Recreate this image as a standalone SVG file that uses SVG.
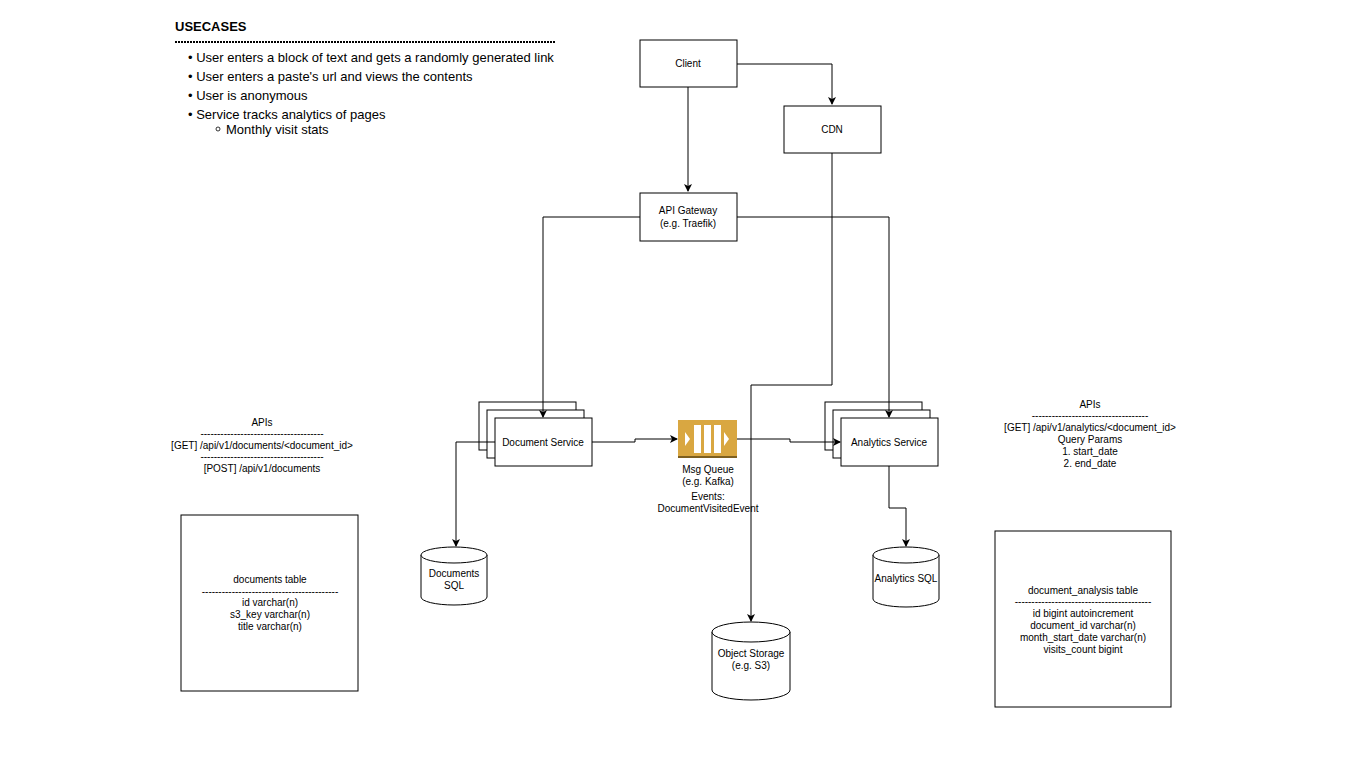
<svg xmlns="http://www.w3.org/2000/svg" width="1358" height="783" viewBox="0 0 1358 783">
<style>
text{font-family:"Liberation Sans",Arial,sans-serif;font-size:10px;fill:#000}
.b{fill:#fff;stroke:#000;stroke-width:1}
.c{fill:none;stroke:#000;stroke-width:1}
.u{font-size:13px}
</style>
<defs><marker id="a" markerWidth="8" markerHeight="8" refX="7" refY="4" orient="auto" markerUnits="userSpaceOnUse"><path d="M0,0L8,4L0,8L2,4z" fill="#000"/></marker></defs>
<rect width="1358" height="783" fill="#fff"/>
<g id="usecases">
<text x="175" y="31" style="font-size:13px;font-weight:bold">USECASES</text>
<line x1="175" y1="42" x2="556" y2="42" stroke="#000" stroke-width="2" stroke-dasharray="2,1"/>
<text class="u" x="188" y="62">•  User enters a block of text and gets a randomly generated link</text>
<text class="u" x="188" y="81">•  User enters a paste's url and views the contents</text>
<text class="u" x="188" y="100">•  User is anonymous</text>
<text class="u" x="188" y="119">•  Service tracks analytics of pages</text>
<circle cx="218" cy="129" r="2" fill="none" stroke="#000" stroke-width="0.8"/>
<text class="u" x="226" y="134">Monthly visit stats</text>
</g>
<g id="client"><rect class="b" x="640" y="40" width="97" height="47"/><text x="688" y="67" text-anchor="middle">Client</text></g>
<g id="cdn"><rect class="b" x="784" y="106" width="97" height="47"/><text x="832" y="133" text-anchor="middle">CDN</text></g>
<g id="gateway"><rect class="b" x="640" y="193" width="97" height="48"/><text x="688" y="214" text-anchor="middle">API Gateway</text><text x="688" y="227" text-anchor="middle">(e.g. Traefik)</text></g>
<g id="docservice">
<rect class="b" x="479" y="402" width="97" height="48"/><rect class="b" x="487" y="410" width="97" height="48"/><rect class="b" x="495" y="418" width="97" height="48"/>
<text x="543" y="446" text-anchor="middle">Document Service</text></g>
<g id="analyticsservice">
<rect class="b" x="825" y="402" width="97" height="48"/><rect class="b" x="833" y="410" width="97" height="48"/><rect class="b" x="841" y="418" width="97" height="48"/>
<text x="889" y="446" text-anchor="middle">Analytics Service</text></g>
<g id="queue">
<rect x="678" y="420" width="59" height="38" fill="#d9a741"/><rect x="678" y="456" width="59" height="2" fill="#7d5f20"/>
<path d="M685,432L690,439L685,446z" fill="#fff"/><rect x="694" y="425" width="7" height="28" fill="#fff"/><rect x="704" y="425" width="7" height="28" fill="#fff"/><rect x="714" y="425" width="7" height="28" fill="#fff"/><path d="M724,432L729,439L724,446z" fill="#fff"/>
<text x="708" y="473" text-anchor="middle">Msg Queue</text><text x="708" y="485" text-anchor="middle">(e.g. Kafka)</text>
<text x="708" y="500" text-anchor="middle">Events:</text><text x="708" y="512" text-anchor="middle">DocumentVisitedEvent</text></g>
<g id="docsql"><path class="b" d="M421,555V597A33,8 0 0 0 487,597V555"/><ellipse class="b" cx="454" cy="555" rx="33" ry="8"/><text x="454" y="577" text-anchor="middle">Documents</text><text x="454" y="589" text-anchor="middle">SQL</text></g>
<g id="analyticssql"><path class="b" d="M873,555V599A33,8 0 0 0 939,599V555"/><ellipse class="b" cx="906" cy="555" rx="33" ry="8"/><text x="906" y="582" text-anchor="middle">Analytics SQL</text></g>
<g id="objstorage"><path class="b" d="M712,632V690A39,10 0 0 0 790,690V632"/><ellipse class="b" cx="751" cy="632" rx="39" ry="10"/><text x="751" y="657" text-anchor="middle">Object Storage</text><text x="751" y="669" text-anchor="middle">(e.g. S3)</text></g>
<g id="docapis" text-anchor="middle">
<text x="262" y="426">APIs</text><text x="262" y="437">-------------------------------------</text>
<text x="262" y="449">[GET] /api/v1/documents/&lt;document_id&gt;</text><text x="262" y="460">-------------------------------------</text>
<text x="262" y="472">[POST] /api/v1/documents</text></g>
<g id="analyticsapis" text-anchor="middle">
<text x="1090" y="408">APIs</text><text x="1090" y="419">-----------------------------------</text>
<text x="1090" y="431">[GET] /api/v1/analytics/&lt;document_id&gt;</text><text x="1090" y="443">Query Params</text>
<text x="1090" y="455">1. start_date</text><text x="1090" y="467">2. end_date</text></g>
<g id="doctable"><rect class="b" x="181" y="515" width="177" height="176"/>
<g text-anchor="middle"><text x="270" y="583">documents table</text><text x="270" y="595">-----------------------------------------</text>
<text x="270" y="606">id varchar(n)</text><text x="270" y="618">s3_key varchar(n)</text><text x="270" y="630">title varchar(n)</text></g></g>
<g id="analysistable"><rect class="b" x="995" y="531" width="176" height="176"/>
<g text-anchor="middle"><text x="1083" y="594">document_analysis table</text><text x="1083" y="605">-----------------------------------------</text>
<text x="1083" y="617">id bigint autoincrement</text><text x="1083" y="629">document_id varchar(n)</text><text x="1083" y="641">month_start_date varchar(n)</text><text x="1083" y="653">visits_count bigint</text></g></g>
<g id="connectors">
<path class="c" d="M688,87V191" marker-end="url(#a)"/>
<path class="c" d="M737,64H832V104" marker-end="url(#a)"/>
<path class="c" d="M640,217H543V417" marker-end="url(#a)"/>
<path class="c" d="M737,217H889V417" marker-end="url(#a)"/>
<path class="c" d="M832,153V385H751V621" marker-end="url(#a)"/>
<path class="c" d="M592,442H635V439H677" marker-end="url(#a)"/>
<path class="c" d="M737,439H790V442H840" marker-end="url(#a)"/>
<path class="c" d="M495,442H456V546" marker-end="url(#a)"/>
<path class="c" d="M889,466V508H906V546" marker-end="url(#a)"/>
</g>
</svg>
